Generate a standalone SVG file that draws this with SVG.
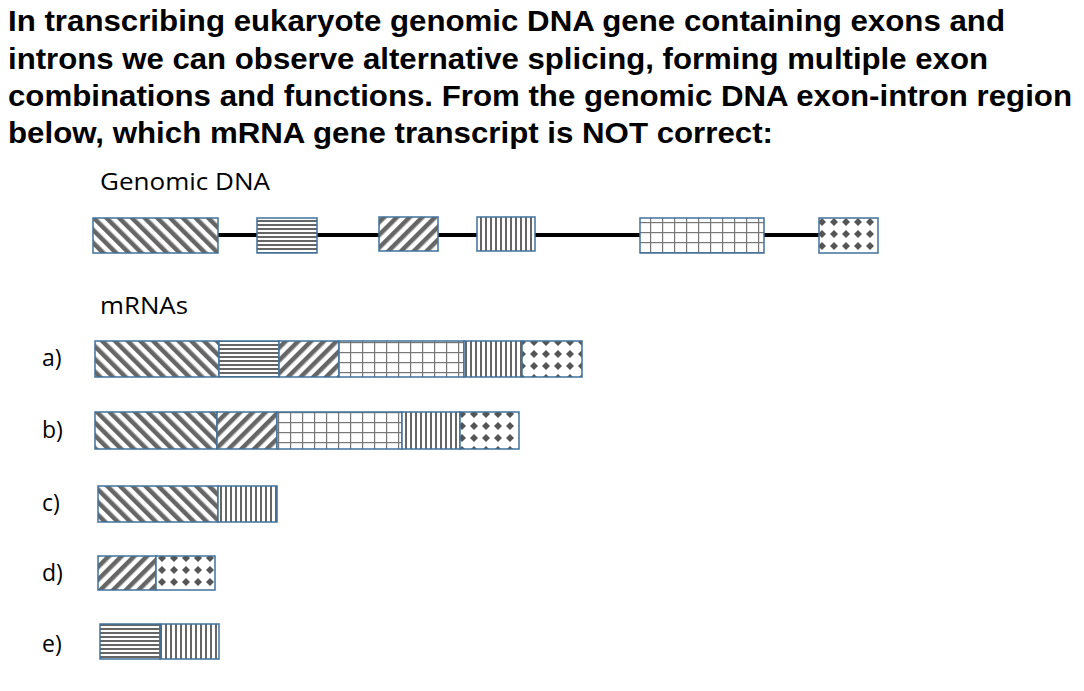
<svg xmlns="http://www.w3.org/2000/svg" width="1084" height="691" viewBox="0 0 1084 691">
<defs>
<pattern id="pd" width="9" height="9" patternUnits="userSpaceOnUse" patternTransform="rotate(-45)"><rect width="9" height="9" fill="#fff"/><rect width="4.5" height="9" fill="#666"/></pattern>
<pattern id="pu" width="9" height="9" patternUnits="userSpaceOnUse" patternTransform="rotate(45)"><rect width="9" height="9" fill="#fff"/><rect width="4.5" height="9" fill="#666"/></pattern>
<pattern id="ph" width="4" height="4" patternUnits="userSpaceOnUse"><rect width="4" height="4" fill="#fff"/><rect width="4" height="2" fill="#666"/></pattern>
<pattern id="pv" width="5" height="5" patternUnits="userSpaceOnUse"><rect width="5" height="5" fill="#fff"/><rect width="2" height="5" fill="#666"/></pattern>
<pattern id="pg" width="12" height="10" patternUnits="userSpaceOnUse" x="2" y="2"><rect width="12" height="10" fill="#fff"/><rect width="1.2" height="10" fill="#777"/><rect width="12" height="1.2" fill="#777"/></pattern>
<pattern id="pc" width="12" height="12" patternUnits="userSpaceOnUse"><rect width="12" height="12" fill="#fff"/><polygon points="6,2 10,6 6,10 2,6" fill="#555"/></pattern>
<style>
.b{stroke:#41719c;stroke-width:1.5}
.t{font-family:"Liberation Sans",Arial,sans-serif;font-weight:bold;font-size:29px;fill:#000}
.l{font-family:"Open Sans","Liberation Sans",sans-serif;font-size:23px;fill:#000}
</style>
</defs>
<rect width="1084" height="691" fill="#fff"/>
<g id="title">
<text class="t" x="8" y="31" textLength="997" lengthAdjust="spacingAndGlyphs">In transcribing eukaryote genomic DNA gene containing exons and</text>
<text class="t" x="8" y="69" textLength="980" lengthAdjust="spacingAndGlyphs">introns we can observe alternative splicing, forming multiple exon</text>
<text class="t" x="8" y="106" textLength="1064" lengthAdjust="spacingAndGlyphs">combinations and functions. From the genomic DNA exon-intron region</text>
<text class="t" x="8" y="143" textLength="765" lengthAdjust="spacingAndGlyphs">below, which mRNA gene transcript is NOT correct:</text>
</g>
<g id="labels">
<text class="l" x="100" y="190" textLength="170" lengthAdjust="spacingAndGlyphs">Genomic DNA</text>
<text class="l" x="100" y="314" textLength="88" lengthAdjust="spacingAndGlyphs">mRNAs</text>
<text class="l" x="42" y="366">a)</text>
<text class="l" x="42" y="438">b)</text>
<text class="l" x="42" y="511">c)</text>
<text class="l" x="42" y="581">d)</text>
<text class="l" x="42" y="652">e)</text>
</g>
<g id="connectors" stroke="#000" stroke-width="4">
<line x1="218" y1="235" x2="640" y2="235"/>
<line x1="764" y1="235" x2="819" y2="235"/>
</g>
<g id="genomic" class="b">
<rect x="93" y="218" width="125" height="35" fill="url(#pd)"/>
<rect x="257" y="218" width="60" height="35" fill="url(#ph)"/>
<rect x="379" y="217" width="59" height="34" fill="url(#pu)"/>
<rect x="477" y="217" width="58" height="34" fill="url(#pv)"/>
<rect x="640" y="218" width="124" height="35" fill="url(#pg)"/>
<rect x="819" y="218" width="59" height="35" fill="url(#pc)"/>
</g>
<g id="mrna-a" class="b">
<rect x="95" y="341" width="124" height="36" fill="url(#pd)"/>
<rect x="219" y="341" width="60" height="36" fill="url(#ph)"/>
<rect x="279" y="341" width="60" height="36" fill="url(#pu)"/>
<rect x="339" y="341" width="125" height="36" fill="url(#pg)"/>
<rect x="464" y="341" width="58" height="36" fill="url(#pv)"/>
<rect x="522" y="341" width="60" height="36" fill="url(#pc)"/>
</g>
<g id="mrna-b" class="b">
<rect x="95" y="412" width="122" height="37" fill="url(#pd)"/>
<rect x="217" y="412" width="60" height="37" fill="url(#pu)"/>
<rect x="277" y="412" width="125" height="37" fill="url(#pg)"/>
<rect x="402" y="412" width="58" height="37" fill="url(#pv)"/>
<rect x="460" y="412" width="59" height="37" fill="url(#pc)"/>
</g>
<g id="mrna-c" class="b">
<rect x="98" y="486" width="120" height="36" fill="url(#pd)"/>
<rect x="218" y="486" width="59" height="36" fill="url(#pv)"/>
</g>
<g id="mrna-d" class="b">
<rect x="98" y="556" width="58" height="34" fill="url(#pu)"/>
<rect x="156" y="556" width="59" height="34" fill="url(#pc)"/>
</g>
<g id="mrna-e" class="b">
<rect x="100" y="624" width="60" height="35" fill="url(#ph)"/>
<rect x="160" y="624" width="59" height="35" fill="url(#pv)"/>
</g>
</svg>
